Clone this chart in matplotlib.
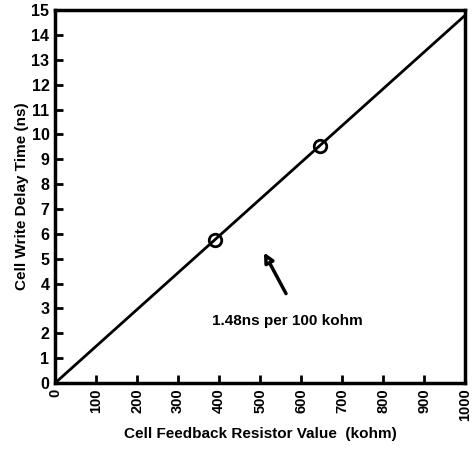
import matplotlib
matplotlib.use("Agg")
import matplotlib.pyplot as plt

# fitted line and the two measured points
line_x = [0, 1000]
line_y = [0, 14.8]
pts_x = [390, 645]
pts_y = [5.77, 9.55]

x_ticks = list(range(0, 1001, 100))
y_ticks = list(range(0, 16))

plt.rcParams['font.family'] = ['Liberation Sans', 'DejaVu Sans']
plt.rcParams['font.weight'] = 'bold'

fig = plt.figure(figsize=(4.74, 4.55), dpi=100)
ax = fig.add_axes([0.116, 0.158, 0.866, 0.82])

ax.plot(line_x, line_y, color='black', lw=2)
ax.plot(pts_x, pts_y, 'o', ms=9, mfc='none', mec='black', mew=2)

ax.set_xlim(0, 1000)
ax.set_ylim(0, 15)
ax.set_xticks(x_ticks)
ax.set_yticks(y_ticks)
ax.set_xticklabels([str(v) for v in x_ticks], rotation=90, fontsize=10.5, fontweight='bold')
ax.set_yticklabels([str(v) for v in y_ticks], fontsize=11.5, fontweight='bold')
ax.tick_params(direction='in', length=6, width=2, pad=4)
for s in ax.spines.values():
    s.set_linewidth(2.5)

ax.set_xlabel("Cell Feedback Resistor Value  (kohm)", fontsize=11, fontweight='bold')
ax.set_ylabel("Cell Write Delay Time (ns)", fontsize=11, fontweight='bold', labelpad=2)

ax.annotate("", xy=(506, 5.35), xytext=(566, 3.5),
            arrowprops=dict(arrowstyle='-|>', color='black', lw=2.5,
                            mutation_scale=14, fc='white'))
ax.text(566, 2.5, "1.48ns per 100 kohm", ha='center', va='center',
        fontsize=11, fontweight='bold')

fig.savefig("out.png", dpi=100)
